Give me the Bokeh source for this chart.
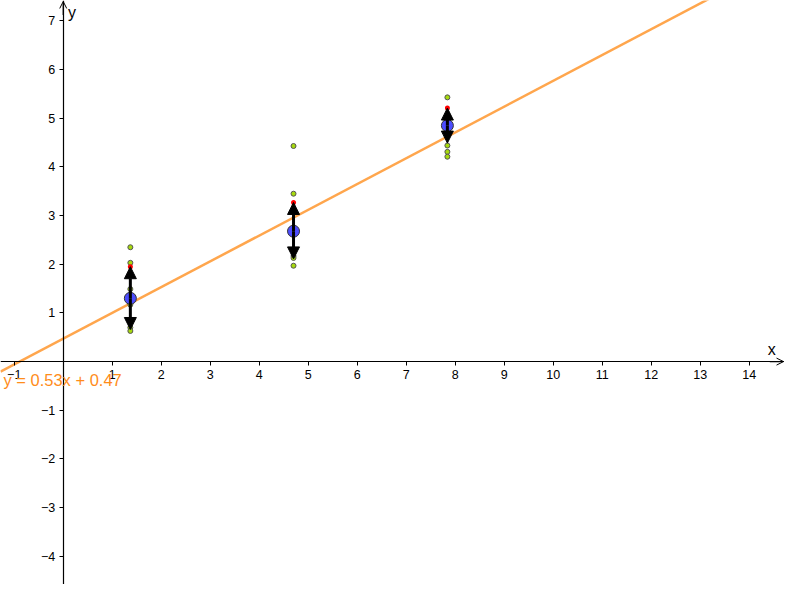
from bokeh.plotting import figure
from bokeh.models import (ColumnDataSource, LinearAxis, FixedTicker, Arrow,
                          NormalHead, OpenHead, Range1d, Label)
from bokeh.embed import file_html
from bokeh.resources import INLINE

# ---- data ----
group_x = [1.37, 4.70, 7.84]
group_mean = [1.30, 2.68, 4.85]
group_upper = [1.95, 3.27, 5.21]
group_lower = [0.66, 2.11, 4.49]

obs_group1 = [2.35, 2.03, 1.49, 1.17, 0.70, 0.63]
obs_group2 = [4.43, 3.45, 2.17, 2.13, 1.97]
obs_group3 = [5.43, 4.44, 4.31, 4.21]

slope = 0.53
intercept = 0.47

x_ticks = [-1, 1, 2, 3, 4, 5, 6, 7, 8, 9, 10, 11, 12, 13, 14]
y_ticks = [-4, -3, -2, -1, 1, 2, 3, 4, 5, 6, 7]

X_MIN, X_MAX = -1.28, 14.72
Y_MIN, Y_MAX = -4.58, 7.42

FONT = "Liberation Sans"

p = figure(width=784, height=584, output_backend="svg", toolbar_location=None,
           x_range=Range1d(X_MIN, X_MAX), y_range=Range1d(Y_MIN, Y_MAX),
           x_axis_type=None, y_axis_type=None, min_border=0)
p.outline_line_color = None
p.xgrid.visible = False
p.ygrid.visible = False
p.background_fill_color = "white"

def fmt(v):
    return ("\u2212" + str(-v)) if v < 0 else str(v)

# axes through the origin
xax = LinearAxis(fixed_location=0, ticker=FixedTicker(ticks=x_ticks),
                 major_label_overrides={t: fmt(t) for t in x_ticks})
yax = LinearAxis(fixed_location=0, ticker=FixedTicker(ticks=y_ticks),
                 major_label_overrides={t: fmt(t) for t in y_ticks})
for ax in (xax, yax):
    ax.axis_line_color = "black"
    ax.axis_line_width = 1.2
    ax.major_tick_in = 0
    ax.major_tick_out = 4
    ax.minor_tick_line_color = None
    ax.major_label_text_font = FONT
    ax.major_label_text_font_size = "12.5px"
    ax.major_label_text_color = "black"
    ax.major_label_standoff = 4
p.add_layout(xax, "below")
p.add_layout(yax, "left")

p.add_layout(Arrow(end=OpenHead(size=7, line_width=1, line_color="black"),
                   x_start=X_MAX - 0.3, y_start=0, x_end=X_MAX - 0.02, y_end=0,
                   line_color="black", line_width=1.2))
p.add_layout(Arrow(end=OpenHead(size=7, line_width=1, line_color="black"),
                   x_start=0, y_start=Y_MAX - 0.3, x_end=0, y_end=Y_MAX - 0.02,
                   line_color="black", line_width=1.2))

p.add_layout(Label(x=14.38, y=0.08, text="x", text_font=FONT,
                   text_font_size="16px", text_color="black"))
p.add_layout(Label(x=0.1, y=7.0, text="y", text_font=FONT,
                   text_font_size="16px", text_color="black"))

# regression line
lx = [X_MIN, X_MAX]
ly = [slope * v + intercept for v in lx]
p.line(lx, ly, line_color="#ffa64d", line_width=2.5)

# observations
ox, oy = [], []
for gx, obs in zip(group_x, [obs_group1, obs_group2, obs_group3]):
    ox += [gx] * len(obs)
    oy += obs
p.scatter(ox, oy, size=5, fill_color="#a6d90d", line_color="#555555",
          line_width=1)

# error arrows
src = ColumnDataSource(dict(x=group_x, m=group_mean, up=group_upper, lo=group_lower))
for end_field in ("up", "lo"):
    p.add_layout(Arrow(end=NormalHead(size=12, fill_color="black", line_color="black"),
                       x_start="x", y_start="m", x_end="x", y_end=end_field,
                       source=src, line_color="black", line_width=3))

p.scatter(group_x, group_upper, size=5, fill_color="red", line_color=None)
p.scatter(group_x, group_mean, size=12, fill_color="#4d4dff",
          line_color="#333333", line_width=1)

p.add_layout(Label(x=-1.22, y=-0.2, text="y = 0.53x + 0.47", text_font=FONT,
                   text_font_size="16.5px", text_color="#ff8c1a",
                   text_baseline="top"))

open("out.html", "w").write(file_html(p, INLINE))
